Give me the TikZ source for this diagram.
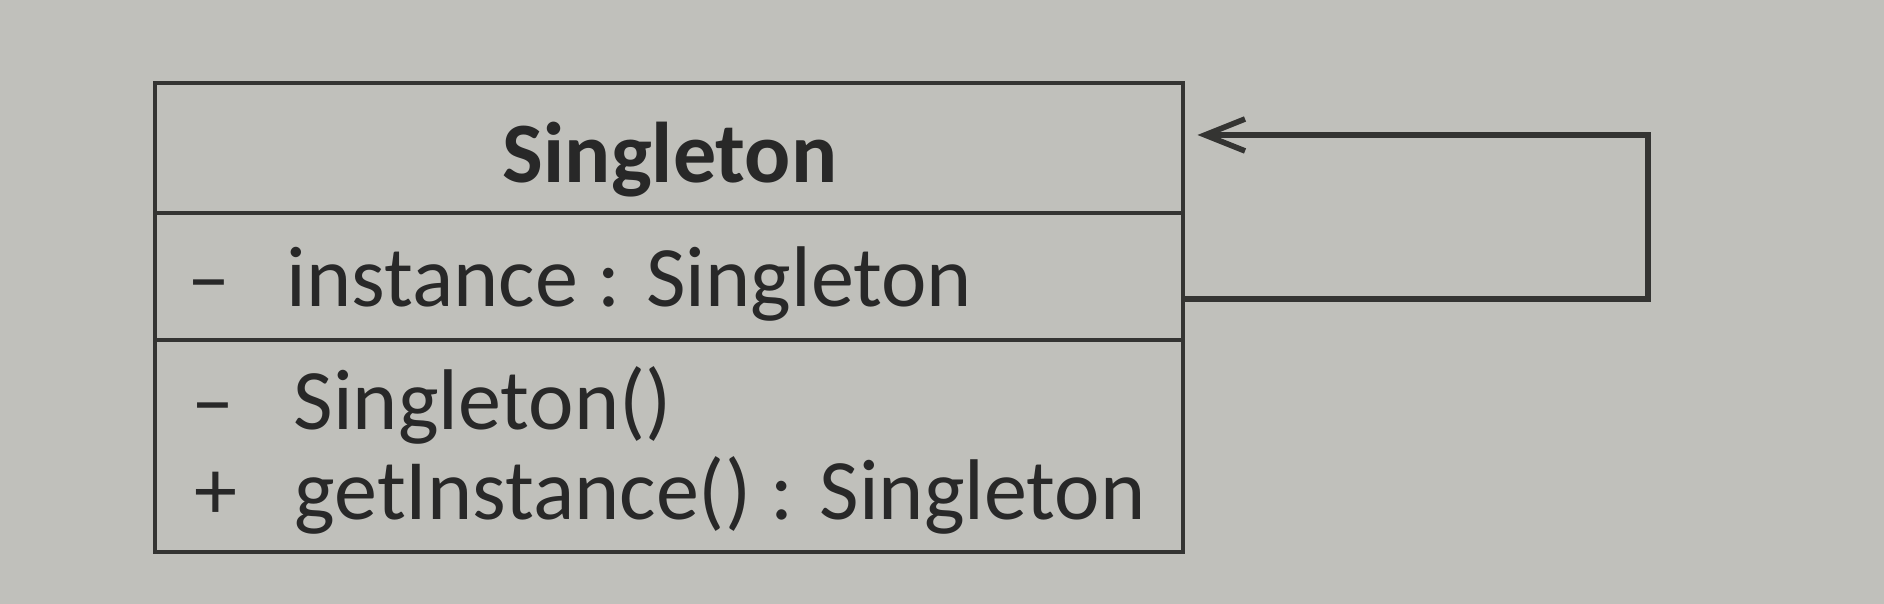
\documentclass[tikz,border=0pt]{standalone}
\usepackage{fontspec}
\setmainfont{Carlito}
\usetikzlibrary{positioning,arrows.meta}
\definecolor{bgclr}{RGB}{192,192,187}
\definecolor{lineclr}{RGB}{52,52,50}
\definecolor{txtclr}{RGB}{40,40,40}
\begin{document}
\begin{tikzpicture}[cls/.style={draw=lineclr,line width=1.4pt,minimum width=10.28cm,inner sep=0pt},
                    txt/.style={anchor=base west,inner sep=0pt,text=txtclr,font=\fontsize{24.5}{28}\selectfont},
                    vis/.style={anchor=base,inner sep=0pt,text=txtclr,font=\fontsize{24.5}{28}\selectfont}]
                      \fill[bgclr] (0,0) rectangle (18.84,6.04);
                      \node[cls,minimum height=1.30cm] (head) at (6.69,4.56) {};
                      \node[cls,minimum height=1.27cm] (attr) at (6.69,3.275) {};
                      \node[cls,minimum height=2.12cm] (ops) at (6.69,1.58) {};

                      \node[vis,font=\fontsize{24.5}{28}\selectfont\bfseries] (name) at (6.70,4.21) {Singleton};
                      \node[vis] (v1) at (2.09,2.97) {–};
                      \node[txt] (a1) at (2.86,2.97) {instance : Singleton};
                      \node[vis] (v2) at (2.13,1.74) {–};
                      \node[txt] (o1) at (2.93,1.74) {Singleton()};
                      \node[vis] (v3) at (2.16,0.84) {+};
                      \node[txt] (o2) at (2.94,0.84) {getInstance() : Singleton};

                      \coordinate (loopa) at (11.83,3.05);
                      \coordinate (loopb) at (16.48,4.69);
                      \draw[-{Straight Barb[length=4mm,width=3.2mm]},draw=lineclr,line width=1.6pt] (loopa) -| (loopb) -- ([xshift=1.2mm]head.east |- loopb);
                    \end{tikzpicture}
\end{document}
